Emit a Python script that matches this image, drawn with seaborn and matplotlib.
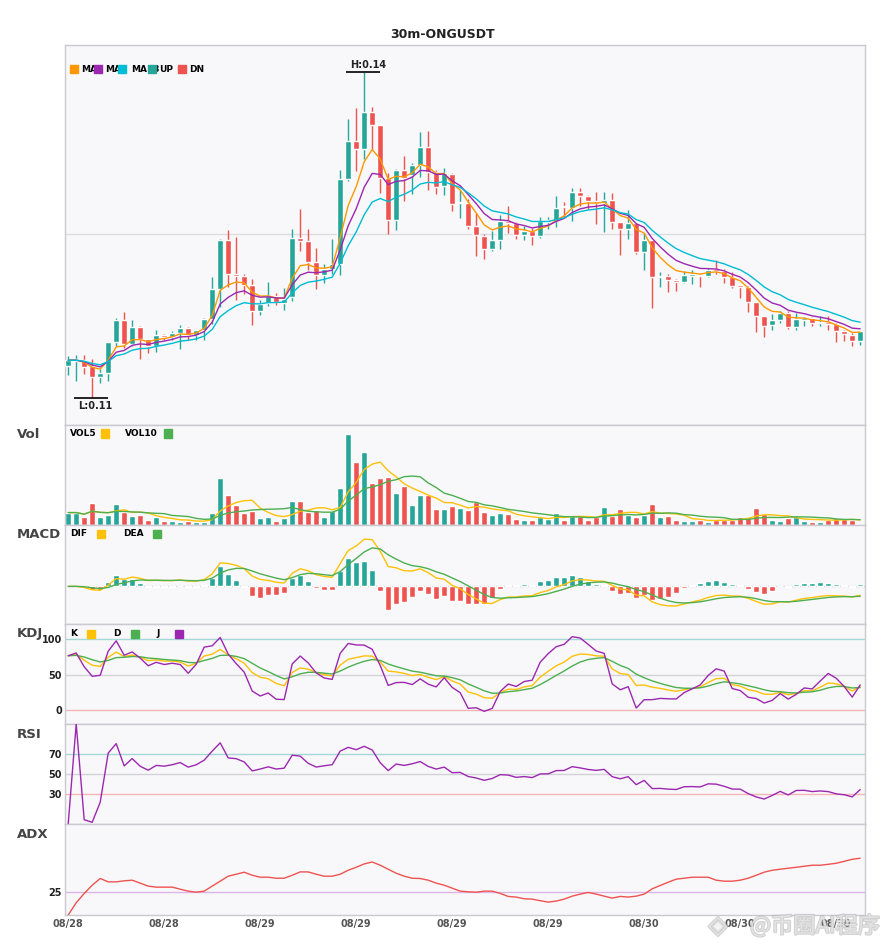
import numpy as np
import pandas as pd
import matplotlib
matplotlib.use('Agg')
import matplotlib.pyplot as plt
import matplotlib.patheffects as pe
from matplotlib.patches import Rectangle
import seaborn as sns

symbol = '30m-ONGUSDT'
start_time = '2024-08-28 12:00'

open_p = [0.11315, 0.11363, 0.11366, 0.11312, 0.11216, 0.11252, 0.11528, 0.11726, 0.11510, 0.11663,
          0.11555, 0.11492, 0.11585, 0.11573, 0.11609, 0.11654, 0.11591, 0.11636, 0.11735, 0.12005,
          0.12446, 0.12140, 0.12122, 0.12047, 0.11810, 0.11882, 0.11948, 0.11882, 0.11936, 0.12464,
          0.12437, 0.12248, 0.12137, 0.12188, 0.12230, 0.12995, 0.13337, 0.13265, 0.13598, 0.13481,
          0.13007, 0.12626, 0.13076, 0.13031, 0.13121, 0.13283, 0.13058, 0.12932, 0.13040, 0.12779,
          0.12782, 0.12572, 0.12482, 0.12368, 0.12446, 0.12614, 0.12596, 0.12494, 0.12524, 0.12482,
          0.12611, 0.12614, 0.12746, 0.12734, 0.12878, 0.12842, 0.12800, 0.12776, 0.12806, 0.12608,
          0.12545, 0.12599, 0.12338, 0.12446, 0.12113, 0.12122, 0.12086, 0.12071, 0.12128, 0.12137,
          0.12122, 0.12179, 0.12173, 0.12113, 0.12035, 0.12026, 0.11888, 0.11762, 0.11681, 0.11726,
          0.11789, 0.11663, 0.11732, 0.11744, 0.11702, 0.11708, 0.11690, 0.11627, 0.11591, 0.11537]
high_p = [0.11405, 0.11411, 0.11411, 0.11375, 0.11291, 0.11528, 0.11747, 0.11798, 0.11726, 0.11672,
          0.11555, 0.11636, 0.11606, 0.11630, 0.11681, 0.11663, 0.11642, 0.11747, 0.12113, 0.12455,
          0.12536, 0.12476, 0.12146, 0.12101, 0.11906, 0.12071, 0.11975, 0.12017, 0.12545, 0.12725,
          0.12545, 0.12374, 0.12230, 0.12455, 0.13076, 0.13535, 0.13634, 0.13958, 0.13643, 0.13481,
          0.13046, 0.13085, 0.13202, 0.13136, 0.13418, 0.13427, 0.13076, 0.13094, 0.13046, 0.12896,
          0.12812, 0.12686, 0.12500, 0.12530, 0.12671, 0.12755, 0.12605, 0.12575, 0.12557, 0.12653,
          0.12656, 0.12842, 0.12791, 0.12917, 0.12917, 0.12851, 0.12878, 0.12878, 0.12869, 0.12608,
          0.12716, 0.12599, 0.12512, 0.12446, 0.12158, 0.12146, 0.12101, 0.12167, 0.12176, 0.12146,
          0.12200, 0.12266, 0.12191, 0.12158, 0.12047, 0.12032, 0.11888, 0.11762, 0.11780, 0.11807,
          0.11807, 0.11789, 0.11753, 0.11753, 0.11768, 0.11762, 0.11699, 0.11636, 0.11609, 0.11627]
low_p = [0.11237, 0.11180, 0.11246, 0.11027, 0.11162, 0.11180, 0.11492, 0.11474, 0.11492, 0.11378,
         0.11432, 0.11441, 0.11546, 0.11546, 0.11468, 0.11552, 0.11552, 0.11546, 0.11696, 0.11846,
         0.12026, 0.11906, 0.11966, 0.11681, 0.11771, 0.11855, 0.11861, 0.11816, 0.11900, 0.12350,
         0.12176, 0.12008, 0.12065, 0.12146, 0.12131, 0.12980, 0.13067, 0.13175, 0.13256, 0.12866,
         0.12500, 0.12536, 0.12800, 0.12860, 0.13016, 0.12896, 0.12860, 0.12851, 0.12710, 0.12641,
         0.12545, 0.12305, 0.12275, 0.12350, 0.12368, 0.12512, 0.12455, 0.12446, 0.12401, 0.12467,
         0.12545, 0.12566, 0.12656, 0.12620, 0.12752, 0.12728, 0.12590, 0.12518, 0.12545, 0.12311,
         0.12455, 0.12320, 0.12176, 0.11834, 0.12023, 0.11981, 0.11987, 0.12062, 0.12053, 0.12023,
         0.12113, 0.12146, 0.12062, 0.12014, 0.11927, 0.11798, 0.11618, 0.11573, 0.11636, 0.11699,
         0.11645, 0.11636, 0.11672, 0.11672, 0.11672, 0.11642, 0.11528, 0.11537, 0.11492, 0.11501]
close_p = [0.11366, 0.11369, 0.11306, 0.11216, 0.11252, 0.11528, 0.11726, 0.11510, 0.11663, 0.11555,
           0.11492, 0.11591, 0.11579, 0.11609, 0.11654, 0.11591, 0.11636, 0.11735, 0.12005, 0.12446,
           0.12140, 0.12122, 0.12047, 0.11810, 0.11873, 0.11948, 0.11891, 0.11918, 0.12464, 0.12440,
           0.12248, 0.12137, 0.12188, 0.12230, 0.12995, 0.13337, 0.13265, 0.13598, 0.13481, 0.13007,
           0.12626, 0.13076, 0.13007, 0.13121, 0.13283, 0.13058, 0.12926, 0.13046, 0.12770, 0.12785,
           0.12575, 0.12494, 0.12368, 0.12446, 0.12614, 0.12596, 0.12494, 0.12524, 0.12482, 0.12614,
           0.12617, 0.12734, 0.12740, 0.12878, 0.12842, 0.12800, 0.12776, 0.12806, 0.12608, 0.12545,
           0.12599, 0.12338, 0.12446, 0.12113, 0.12119, 0.12086, 0.12071, 0.12131, 0.12134, 0.12122,
           0.12182, 0.12173, 0.12113, 0.12032, 0.12029, 0.11888, 0.11762, 0.11672, 0.11726, 0.11789,
           0.11663, 0.11735, 0.11738, 0.11699, 0.11708, 0.11690, 0.11627, 0.11600, 0.11537, 0.11627]
# volume in thousands
volume = [37, 37, 23, 67, 25, 31, 64, 39, 28, 31, 16, 25, 13, 13, 10, 13, 10, 10, 37, 139,
          88, 61, 37, 43, 22, 25, 13, 22, 73, 73, 40, 46, 25, 43, 109, 271, 187, 217, 124, 139,
          142, 94, 115, 61, 88, 88, 49, 49, 58, 52, 46, 70, 40, 31, 37, 34, 19, 16, 16, 25,
          19, 37, 16, 28, 28, 16, 25, 55, 28, 49, 31, 25, 31, 64, 25, 28, 16, 13, 13, 16,
          10, 16, 16, 16, 25, 25, 52, 34, 16, 13, 22, 25, 13, 10, 10, 16, 22, 19, 16, 4]
adx = [0, 13.2, 23.2, 32.1, 39.3, 35.7, 35.7, 36.8, 37.5, 34.3, 31.1, 30.0, 30.0, 30.0, 27.8, 25.7, 24.6, 25.7, 31.1, 36.4,
       41.8, 43.9, 46.1, 42.8, 40.7, 40.7, 39.6, 39.6, 42.8, 46.4, 46.4, 43.9, 41.8, 41.8, 43.9, 48.2, 51.4, 55.0, 57.1, 53.6,
       49.3, 45.0, 41.8, 39.6, 39.3, 37.5, 34.3, 32.1, 28.9, 25.7, 25.0, 24.6, 25.7, 25.7, 23.2, 20.0, 19.3, 17.5, 17.1, 15.4,
       13.9, 15.0, 17.1, 20.3, 22.5, 24.3, 22.5, 20.3, 18.2, 20.0, 19.3, 20.3, 22.5, 28.2, 31.8, 35.3, 38.6, 39.6, 40.7, 40.7,
       40.7, 37.5, 36.4, 36.4, 37.5, 39.6, 42.8, 46.1, 48.2, 49.3, 50.4, 51.4, 52.5, 53.6, 53.6, 54.6, 55.7, 57.8, 60.0, 61.1]

UP, DN = '#26a69a', '#ef5350'
C_MA = ['#ff9800', '#9c27b0', '#00bcd4']
YEL, GRN, PUR = '#ffc107', '#4caf50', '#9c27b0'

df = pd.DataFrame({'open': open_p, 'high': high_p, 'low': low_p, 'close': close_p,
                   'volume': volume, 'adx': adx})
df['time'] = pd.date_range(start_time, periods=len(df), freq='30min')
x = np.arange(len(df))
colors = np.where(df['close'] >= df['open'], UP, DN)

# indicators
ma_spans = [5, 8, 13]
for s in ma_spans:
    df[f'ma{s}'] = df['close'].ewm(span=s, adjust=False).mean()
df['vol5'] = df['volume'].rolling(5, min_periods=1).mean()
df['vol10'] = df['volume'].rolling(10, min_periods=1).mean()
ema_fast = df['close'].ewm(span=5, adjust=False).mean()
ema_slow = df['close'].ewm(span=13, adjust=False).mean()
df['dif'] = ema_fast - ema_slow
df['dea'] = df['dif'].ewm(span=5, adjust=False).mean()
df['hist'] = 2 * (df['dif'] - df['dea'])
low9 = df['low'].rolling(9, min_periods=1).min()
high9 = df['high'].rolling(9, min_periods=1).max()
rsv = (df['close'] - low9) / (high9 - low9) * 100
df['k'] = rsv.ewm(com=2, adjust=False).mean()
df['d'] = df['k'].ewm(com=2, adjust=False).mean()
df['j'] = 3 * df['k'] - 2 * df['d']
delta = df['close'].diff()
gain = delta.clip(lower=0).ewm(alpha=1 / 14, adjust=True).mean()
loss = (-delta).clip(lower=0).ewm(alpha=1 / 14, adjust=True).mean()
df['rsi'] = (100 * gain / (gain + loss)).fillna(0)

sns.set_style('white')
plt.rcParams['axes.facecolor'] = '#f8f8fa'
plt.rcParams['axes.edgecolor'] = '#c9c9d1'
plt.rcParams['font.family'] = ['DejaVu Sans']

W, H = 885, 950
fig = plt.figure(figsize=(W / 100, H / 100), dpi=100)


def panel(top, bottom):
    ax = fig.add_axes([65 / W, 1 - bottom / H, 800 / W, (bottom - top) / H])
    ax.set_xlim(-0.4, len(df) - 0.4)
    ax.tick_params(length=0, labelsize=7, pad=2)
    for sp in ax.spines.values():
        sp.set_color('#c9c9d1')
        sp.set_linewidth(1)
    ax.set_xticks([])
    ax.set_yticks([])
    return ax


ax_main = panel(45, 425)
ax_vol = panel(425, 525)
ax_macd = panel(525, 624)
ax_kdj = panel(624, 724)
ax_rsi = panel(724, 824)
ax_adx = panel(824, 915)

# candles
body = np.maximum((df['close'] - df['open']).abs(), 0.00012)
ax_main.vlines(x, df['low'], df['high'], colors=colors, lw=1.0, zorder=2)
ax_main.bar(x, body, bottom=np.minimum(df['open'], df['close']), width=0.74, color=colors, zorder=3)
for s, c in zip(ma_spans, C_MA):
    sns.lineplot(x=x, y=df[f'ma{s}'].values, ax=ax_main, color=c, lw=1.0, zorder=4)
ax_main.axhline(0.125, color='#dcdce3', lw=1, zorder=1)
lo, hi = df['low'].min(), df['high'].max()
ax_main.set_ylim(lo - 0.083 * (hi - lo), hi + 0.083 * (hi - lo))
ih, il = int(df['high'].idxmax()), int(df['low'].idxmin())
ax_main.hlines(hi, ih - 2.3, ih + 2.0, color='black', lw=1.2, zorder=5)
ax_main.annotate(f'H:{hi:.2f}', (ih + 0.5, hi), xytext=(0, 1.5), textcoords='offset points',
                 ha='center', va='bottom', fontsize=7, fontweight='bold', color='#222222')
ax_main.hlines(lo, il - 2.3, il + 2.0, color='black', lw=1.2, zorder=5)
ax_main.annotate(f'L:{lo:.2f}', (il + 0.4, lo), xytext=(0, -2), textcoords='offset points',
                 ha='center', va='top', fontsize=7, fontweight='bold', color='#222222')

# volume
ax_vol.bar(x, df['volume'], width=0.74, color=colors, zorder=2)
sns.lineplot(x=x, y=df['vol5'].values, ax=ax_vol, color=YEL, lw=1.0, zorder=3)
sns.lineplot(x=x, y=df['vol10'].values, ax=ax_vol, color=GRN, lw=1.0, zorder=3)
ax_vol.set_ylim(0, df['volume'].max() * 1.1)

# macd
hcol = np.where(df['hist'] >= 0, UP, DN)
ax_macd.bar(x, df['hist'], width=0.74, color=hcol, zorder=2)
ax_macd.axhline(0, color='#d5d5da', lw=1, zorder=1)
sns.lineplot(x=x, y=df['dif'].values, ax=ax_macd, color=YEL, lw=1.0, zorder=3)
sns.lineplot(x=x, y=df['dea'].values, ax=ax_macd, color=GRN, lw=1.0, zorder=3)
m_lo = min(df['dif'].min(), df['dea'].min(), df['hist'].min())
m_hi = max(df['dif'].max(), df['dea'].max(), df['hist'].max())
ax_macd.set_ylim(m_lo - 0.2 * (m_hi - m_lo), m_hi + 0.2 * (m_hi - m_lo))

# kdj
for lvl, c in [(100, '#a3d8d6'), (50, '#d2d2d8'), (0, '#f5b5b5')]:
    ax_kdj.axhline(lvl, color=c, lw=1, zorder=1)
for col, c in [('k', YEL), ('d', GRN), ('j', PUR)]:
    sns.lineplot(x=x, y=df[col].values, ax=ax_kdj, color=c, lw=1.0, zorder=3)
ax_kdj.set_ylim(-19.3, 121.5)
ax_kdj.set_yticks([0, 50, 100])

# rsi
for lvl, c in [(70, '#a3d8d6'), (50, '#d2d2d8'), (30, '#f5b5b5')]:
    ax_rsi.axhline(lvl, color=c, lw=1, zorder=1)
sns.lineplot(x=x, y=df['rsi'].values, ax=ax_rsi, color=PUR, lw=1.0, zorder=3)
ax_rsi.set_ylim(0, 100)
ax_rsi.set_yticks([30, 50, 70])

# adx
ax_adx.axhline(25, color='#dcb4e6', lw=1, zorder=1)
sns.lineplot(x=x, y=df['adx'].values, ax=ax_adx, color=DN, lw=1.0, zorder=3)
ax_adx.set_ylim(0, 98)
ax_adx.set_yticks([25])
ticks = x[::12]
ax_adx.set_xticks(ticks)
ax_adx.set_xticklabels(df['time'].dt.strftime('%m/%d').values[::12])
ax_adx.tick_params(axis='x', labelcolor='#555555', pad=3)

for ax in [ax_kdj, ax_rsi, ax_adx]:
    for lab in ax.get_yticklabels() + ax.get_xticklabels():
        lab.set_fontweight('bold')
    ax.tick_params(axis='y', labelcolor='#222222')
    ax.set_ylabel('')
    ax.set_xlabel('')
for ax in [ax_main, ax_vol, ax_macd]:
    ax.set_ylabel('')
    ax.set_xlabel('')


def legend(items, yc):
    for label, tx, sq, c in items:
        fig.text(tx / W, 1 - yc / H, label, ha='left', va='center', fontsize=6.5,
                 fontweight='bold', color='black', zorder=4)
        fig.add_artist(Rectangle((sq / W, 1 - (yc + 4) / H), 8 / W, 8 / H,
                                 transform=fig.transFigure, color=c, zorder=6))


legend([('MA5', 81, 70, C_MA[0]), ('MA8', 105, 94, C_MA[1]), ('MA13', 131, 118, C_MA[2]),
        ('UP', 159, 148, UP), ('DN', 189, 178, DN)], 69)
legend([('VOL5', 70, 101, YEL), ('VOL10', 125, 163.5, GRN)], 433.5)
legend([('DIF', 70, 97, YEL), ('DEA', 123.5, 153, GRN)], 533.7)
legend([('K', 70.5, 87.3, YEL), ('D', 113.3, 131, GRN), ('J', 156.7, 175, PUR)], 633.7)

for name, yc in [('Vol', 435), ('MACD', 535), ('KDJ', 634), ('RSI', 735), ('ADX', 835)]:
    fig.text(17 / W, 1 - yc / H, name, ha='left', va='center', fontsize=9.5,
             fontweight='bold', color='#444444')

fig.text(0.5, 1 - 34 / H, symbol, ha='center', va='center', fontsize=9, fontweight='bold', color='#222222')

# watermark, laid over the last tick labels as in the source image (semi-transparent)
halo = [pe.withStroke(linewidth=1.6, foreground='#b5b5b5')]
fig.text(880 / W, 1 - 926 / H, '@币圈AI程序', ha='right', va='center', fontsize=16, alpha=0.6,
         color='#f2f2f2', family=['Noto Sans CJK SC', 'DejaVu Sans'], zorder=10, path_effects=halo)
fig.text(718 / W, 1 - 926 / H, '◈', ha='center', va='center', fontsize=18, alpha=0.6,
         color='#f2f2f2', zorder=10, path_effects=halo)

fig.savefig('out.png', dpi=100)
